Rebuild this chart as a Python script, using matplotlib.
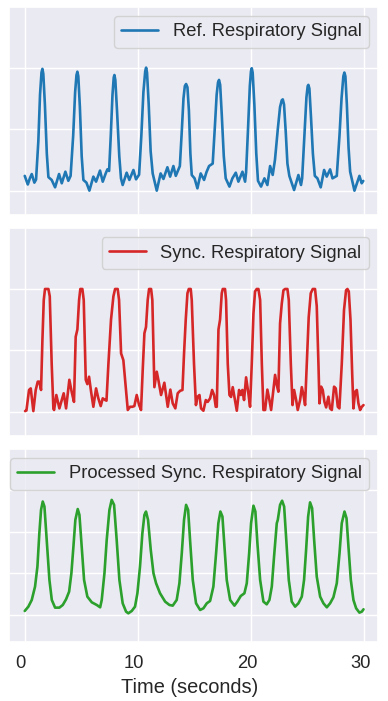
import matplotlib
matplotlib.use("Agg")
import matplotlib.pyplot as plt
import matplotlib.transforms as mtransforms
import seaborn as sns

# ---------------- data ----------------
ref_t = [0.00, 0.27, 0.45, 0.62, 0.85, 1.00, 1.20, 1.35, 1.48, 1.56, 1.64, 1.78, 1.95, 2.09,
         2.38, 2.68, 3.03, 3.27, 3.59, 3.85, 4.05, 4.28, 4.45, 4.57, 4.65, 4.73, 4.87, 5.03,
         5.18, 5.45, 5.71, 6.06, 6.30, 6.65, 6.89, 7.15, 7.30, 7.45, 7.60, 7.75, 7.86, 7.92,
         8.00, 8.15, 8.35, 8.50, 8.65, 9.00, 9.24, 9.60, 9.83, 10.10, 10.30, 10.48, 10.64,
         10.72, 10.80, 10.95, 11.12, 11.30, 11.66, 12.00, 12.25, 12.60, 12.84, 13.13, 13.34,
         13.70, 13.88, 14.02, 14.14, 14.25, 14.37, 14.50, 14.63, 14.75, 15.00, 15.25, 15.54,
         15.84, 16.05, 16.28, 16.60, 16.78, 16.95, 17.07, 17.16, 17.26, 17.40, 17.58, 17.75,
         18.08, 18.34, 18.64, 18.87, 19.23, 19.46, 19.55, 19.72, 19.88, 19.98, 20.05, 20.13,
         20.28, 20.45, 20.60, 20.87, 21.17, 21.43, 21.67, 21.90, 22.10, 22.35, 22.55, 22.70,
         22.79, 22.90, 23.05, 23.20, 23.37, 23.79, 24.17, 24.40, 24.50, 24.70, 24.88, 24.99,
         25.05, 25.14, 25.28, 25.45, 25.62, 25.85, 26.14, 26.44, 26.67, 26.97, 27.18, 27.56,
         27.80, 27.98, 28.14, 28.23, 28.32, 28.45, 28.60, 28.74, 29.12, 29.56, 29.76, 29.90]
ref_v = [0.12, 0.05, 0.10, 0.135, 0.065, 0.09, 0.40, 0.78, 0.96, 0.99, 0.95, 0.70, 0.30, 0.11,
         0.087, 0.027, 0.135, 0.06, 0.154, 0.08, 0.12, 0.45, 0.80, 0.94, 0.967, 0.93, 0.68, 0.28,
         0.087, 0.065, 0.0, 0.114, 0.073, 0.163, 0.073, 0.14, 0.173, 0.16, 0.45, 0.78, 0.92, 0.94,
         0.90, 0.65, 0.28, 0.10, 0.046, 0.146, 0.087, 0.168, 0.092, 0.13, 0.45, 0.80, 0.97,
         1.00, 0.96, 0.70, 0.32, 0.14, 0.0, 0.14, 0.095, 0.19, 0.114, 0.20, 0.12,
         0.20, 0.50, 0.75, 0.85, 0.867, 0.84, 0.65, 0.30, 0.127, 0.10, 0.019, 0.14,
         0.087, 0.15, 0.20, 0.22, 0.50, 0.78, 0.88, 0.90, 0.86, 0.62, 0.28, 0.10,
         0.033, 0.10, 0.146, 0.073, 0.154, 0.073, 0.15, 0.50, 0.85, 0.97, 0.995, 0.96,
         0.70, 0.30, 0.08, 0.033, 0.10, 0.046, 0.20, 0.128, 0.25, 0.50, 0.68, 0.735,
         0.742, 0.70, 0.48, 0.22, 0.12, 0.005, 0.127, 0.046, 0.10, 0.45, 0.76, 0.85,
         0.86, 0.83, 0.60, 0.30, 0.12, 0.10, 0.027, 0.168, 0.114, 0.173, 0.10, 0.12,
         0.45, 0.75, 0.93, 0.96, 0.93, 0.70, 0.35, 0.154, 0.0, 0.12, 0.06, 0.079]

sync_t = [0.03, 0.15, 0.38, 0.53, 0.76, 0.97, 1.15, 1.29, 1.44, 1.56, 1.68, 1.79, 2.09, 2.21,
          2.38, 2.53, 2.59, 2.79, 3.06, 3.44, 3.65, 3.94, 4.15, 4.35, 4.50, 4.65, 4.80, 4.91,
          5.09, 5.21, 5.39, 5.53, 5.68, 5.86, 6.06, 6.30, 6.50, 6.71, 6.89, 7.10, 7.22, 7.39,
          7.62, 7.83, 7.98, 8.21, 8.33, 8.51, 8.71, 8.86, 9.10, 9.30, 9.51, 9.68, 9.89, 10.10,
          10.27, 10.42, 10.57, 10.71, 10.86, 10.98, 11.16, 11.27, 11.45, 11.66, 11.80, 12.04,
          12.33, 12.63, 12.86, 13.07, 13.30, 13.51, 13.72, 13.93, 14.07, 14.22, 14.37, 14.49,
          14.66, 14.75, 14.95, 15.12, 15.25, 15.43, 15.57, 15.78, 15.99, 16.16, 16.37, 16.55,
          16.72, 16.87, 16.96, 17.11, 17.25, 17.40, 17.49, 17.69, 17.78, 17.93, 18.08, 18.22,
          18.37, 18.52, 18.73, 18.93, 19.08, 19.22, 19.37, 19.55, 19.75, 19.90, 20.05, 20.20,
          20.34, 20.49, 20.64, 20.79, 20.94, 21.08, 21.23, 21.43, 21.61, 21.76, 21.96, 22.11,
          22.26, 22.40, 22.55, 22.70, 22.85, 23.00, 23.20, 23.32, 23.50, 23.65, 23.79, 23.97,
          24.11, 24.32, 24.47, 24.62, 24.76, 24.91, 25.08, 25.26, 25.44, 25.64, 25.79, 25.94,
          26.03, 26.18, 26.32, 26.47, 26.62, 26.82, 26.97, 27.12, 27.32, 27.47, 27.65, 27.79,
          28.00, 28.20, 28.38, 28.50, 28.62, 28.77, 28.92, 29.03, 29.18, 29.33, 29.47, 29.62,
          29.77, 29.92]
sync_v = [0.005, 0.01, 0.177, 0.19, 0.005, 0.177, 0.245, 0.245, 0.177, 0.58, 0.91, 1.0, 1.0, 0.94,
          0.39, 0.027, 0.014, 0.136, 0.027, 0.15, 0.027, 0.26, 0.16, 0.08, 0.61, 0.67, 0.91, 1.0,
          1.0, 0.91, 0.26, 0.225, 0.285, 0.163, 0.04, 0.19, 0.109, 0.046, 0.109, 0.095, 0.09, 0.39,
          0.75, 0.94, 1.0, 1.0, 0.91, 0.475, 0.42, 0.26, 0.014, 0.04, 0.04, 0.046, 0.136, 0.054,
          0.014, 0.34, 0.64, 0.69, 0.91, 1.0, 1.0, 0.91, 0.20, 0.326, 0.26, 0.136,
          0.236, 0.04, 0.18, 0.068, 0.027, 0.15, 0.17, 0.177, 0.475, 0.75, 0.965, 1.0,
          1.0, 0.91, 0.39, 0.054, 0.12, 0.136, 0.027, 0.008, 0.095, 0.08, 0.109, 0.177,
          0.136, 0.04, 0.04, 0.67, 0.75, 0.965, 1.0, 1.0, 0.91, 0.39, 0.136, 0.12,
          0.20, 0.12, 0.008, 0.177, 0.136, 0.177, 0.095, 0.28, 0.15, 0.04, 0.39, 0.80,
          0.98, 1.0, 1.0, 0.91, 0.39, 0.014, 0.014, 0.18, 0.095, 0.014, 0.177, 0.30,
          0.217, 0.163, 0.72, 0.88, 0.99, 1.0, 1.0, 0.91, 0.39, 0.054, 0.177, 0.095,
          0.014, 0.095, 0.20, 0.136, 0.054, 0.39, 0.77, 0.965, 1.0, 1.0, 0.86, 0.39,
          0.068, 0.204, 0.177, 0.08, 0.035, 0.122, 0.027, 0.014, 0.204, 0.19, 0.04, 0.027,
          0.39, 0.83, 0.99, 1.0, 0.98, 0.75, 0.31, 0.027, 0.163, 0.177, 0.068, 0.014,
          0.04, 0.054]

proc_t = [0.00, 0.32, 0.62, 0.91, 1.12, 1.29, 1.44, 1.59, 1.74, 1.94, 2.18, 2.39, 2.68, 3.06,
          3.36, 3.65, 3.92, 4.12, 4.30, 4.47, 4.68, 4.83, 5.03, 5.24, 5.53, 5.92, 6.36, 6.66,
          6.80, 7.04, 7.24, 7.48, 7.68, 7.89, 8.12, 8.36, 8.65, 8.95, 9.15, 9.45, 9.74, 9.95,
          10.18, 10.39, 10.57, 10.71, 10.89, 11.13, 11.37, 11.60, 11.95, 12.40, 12.78, 13.07,
          13.42, 13.66, 13.87, 14.07, 14.25, 14.43, 14.60, 14.84, 15.13, 15.49, 15.78, 16.08,
          16.37, 16.66, 16.90, 17.10, 17.28, 17.46, 17.64, 17.84, 18.14, 18.52, 18.78, 19.08,
          19.40, 19.61, 19.82, 19.99, 20.20, 20.37, 20.55, 20.79, 21.08, 21.37, 21.61, 21.82,
          22.02, 22.26, 22.35, 22.55, 22.73, 22.91, 23.08, 23.32, 23.58, 23.88, 24.17, 24.47,
          24.67, 24.85, 25.03, 25.20, 25.38, 25.56, 25.79, 26.09, 26.38, 26.68, 26.97, 27.26,
          27.56, 27.80, 28.00, 28.24, 28.42, 28.59, 28.80, 29.03, 29.27, 29.56, 29.77, 29.92]
proc_v = [0.096, 0.20, 0.36, 0.68, 1.16, 1.96, 2.52, 2.72, 2.60, 1.80, 0.84, 0.36, 0.176, 0.176,
          0.24, 0.376, 0.56, 1.00, 1.64, 2.28, 2.54, 2.40, 1.64, 0.84, 0.44, 0.304, 0.24, 0.184,
          0.36, 1.00, 1.80, 2.52, 2.76, 2.64, 1.80, 0.84, 0.28, 0.08, 0.04, 0.096, 0.20, 0.52,
          1.16, 1.96, 2.40, 2.48, 2.28, 1.56, 1.00, 0.76, 0.52, 0.32, 0.24, 0.224,
          0.36, 0.76, 1.48, 2.28, 2.64, 2.52, 1.80, 0.84, 0.28, 0.12, 0.16, 0.28,
          0.336, 0.68, 1.48, 2.20, 2.48, 2.36, 1.64, 0.84, 0.36, 0.224, 0.32, 0.456,
          0.52, 0.76, 1.48, 2.20, 2.62, 2.48, 1.72, 0.84, 0.32, 0.256, 0.36, 0.68,
          1.40, 2.20, 2.28, 2.64, 2.74, 2.60, 1.88, 0.84, 0.32, 0.20, 0.28, 0.44,
          0.84, 1.56, 2.36, 2.70, 2.56, 1.80, 0.92, 0.44, 0.28, 0.184, 0.28, 0.424,
          0.76, 1.48, 2.20, 2.48, 2.32, 1.64, 0.84, 0.36, 0.16, 0.056, 0.08, 0.136]

labels = ["Ref. Respiratory Signal", "Sync. Respiratory Signal",
          "Processed Sync. Respiratory Signal"]
colors = ["#1f77b4", "#d62728", "#2ca02c"]
x_ticks = [0, 10, 20, 30]

# ---------------- style ----------------
sns.set_theme(style="darkgrid", font_scale=1.2)
plt.rcParams['font.family'] = ['Liberation Sans', 'DejaVu Sans']

fig = plt.figure(figsize=(3.88, 7.01), dpi=100)
W, H = 388, 701
boxes = [(9, 7, 378, 215), (9, 228, 378, 436), (9, 449, 378, 642)]
axes = []
for (l, t, r, b) in boxes:
    ax = fig.add_axes([l / W, (H - b) / H, (r - l) / W, (b - t) / H])
    axes.append(ax)

series = [(ref_t, ref_v), (sync_t, sync_v), (proc_t, proc_v)]
ylims = [(-0.198, 1.493), (-0.198, 1.497), (-0.648, 3.98)]
yticks = [[0, 0.5, 1.0], [0, 0.5, 1.0], [0, 1, 2, 3]]

for i, ax in enumerate(axes):
    t, v = series[i]
    ax.plot(t, v, color=colors[i], lw=1.9, label=labels[i])
    ax.set_xlim(-1.39, 31.2)
    ax.set_ylim(*ylims[i])
    ax.set_xticks(x_ticks)
    ax.set_yticks(yticks[i])
    ax.set_yticklabels([])
    ax.tick_params(axis='y', length=0)
    if i < 2:
        ax.set_xticklabels([])
    ax.legend(loc='upper right')

axes[2].set_xlabel("Time (seconds)")

# the reference's tick labels and axis label sit a few pixels left of the grid lines
shift = mtransforms.ScaledTranslation(-4 / 100, 0, fig.dpi_scale_trans)
for lbl in axes[2].get_xticklabels():
    lbl.set_transform(lbl.get_transform() + shift)
xl = axes[2].xaxis.label
xl.set_transform(xl.get_transform() + mtransforms.ScaledTranslation(-3.5 / 100, 0, fig.dpi_scale_trans))

fig.savefig("out.png", dpi=100)
